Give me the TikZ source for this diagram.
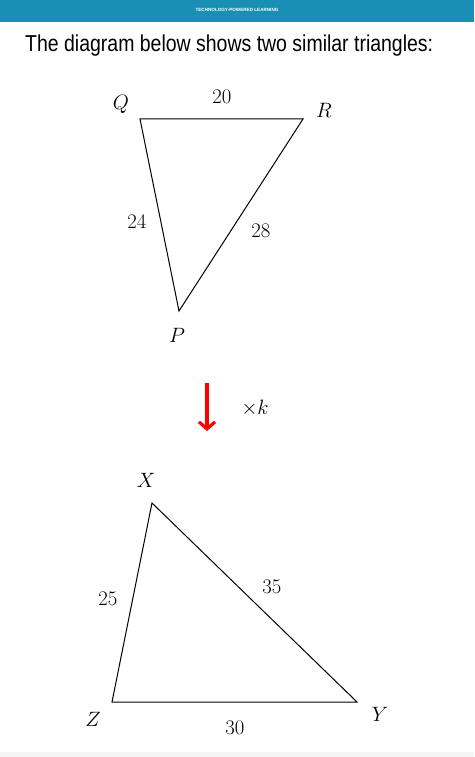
\documentclass[tikz,border=0pt]{standalone}
\usepackage{fontspec}
\setmainfont{Liberation Sans}
\usepackage{amsmath}
\usepackage{graphicx}
\usepackage{xcolor}
\usetikzlibrary{arrows.meta, positioning}
\definecolor{banner}{HTML}{1A8FB6}

\begin{document}
\begin{tikzpicture}[x=1pt, y=-1pt, lab/.style={inner sep=0pt, font=\fontsize{21}{25}\selectfont}]
\useasboundingbox (0,0) rectangle (474,757);
\fill[banner] (0,0) rectangle (474,22);
\node[text=white, inner sep=0pt, font=\fontsize{4.6}{5}\selectfont\bfseries] (brand) at (237,10) {TECHNOLOGY-POWERED LEARNING};
\fill[black!4] (0,752) rectangle (474,757);
\node[anchor=base west, inner sep=0pt, font=\fontsize{23}{27}\selectfont] (title) at (25,52) {\resizebox{408pt}{\height}{The diagram below shows two similar triangles:}};
% first triangle
\coordinate (Q) at (140,119);
\coordinate (R) at (303,119);
\coordinate (P) at (179,311);
\draw[line width=1pt] (Q) -- (R) -- (P) -- cycle;
\node[lab] (q) at (121,104) {$Q$};
\node[lab] (r) at (324,110) {$R$};
\node[lab] (p) at (177,335) {$P$};
\node[lab] (qr) at (222,97) {$20$};
\node[lab] (qp) at (137,222) {$24$};
\node[lab] (rp) at (261,231) {$28$};
% scale factor
\coordinate (a) at (207,383);
\coordinate (b) at (207,431);
\draw[red, line width=3.2pt, -{Straight Barb[length=7pt, width=16pt]}] (a) -- (b);
\node[lab] (k) at (255,408) {$\times k$};
% second triangle
\coordinate (X) at (152,503);
\coordinate (Y) at (357,702);
\coordinate (Z) at (112,702);
\draw[line width=1pt] (X) -- (Y) -- (Z) -- cycle;
\node[lab] (x) at (146,480) {$X$};
\node[lab] (y) at (380,714) {$Y$};
\node[lab] (z) at (93,719) {$Z$};
\node[lab] (xz) at (108,599) {$25$};
\node[lab] (xy) at (272,587) {$35$};
\node[lab] (zy) at (235,728) {$30$};
\end{tikzpicture}
\end{document}
